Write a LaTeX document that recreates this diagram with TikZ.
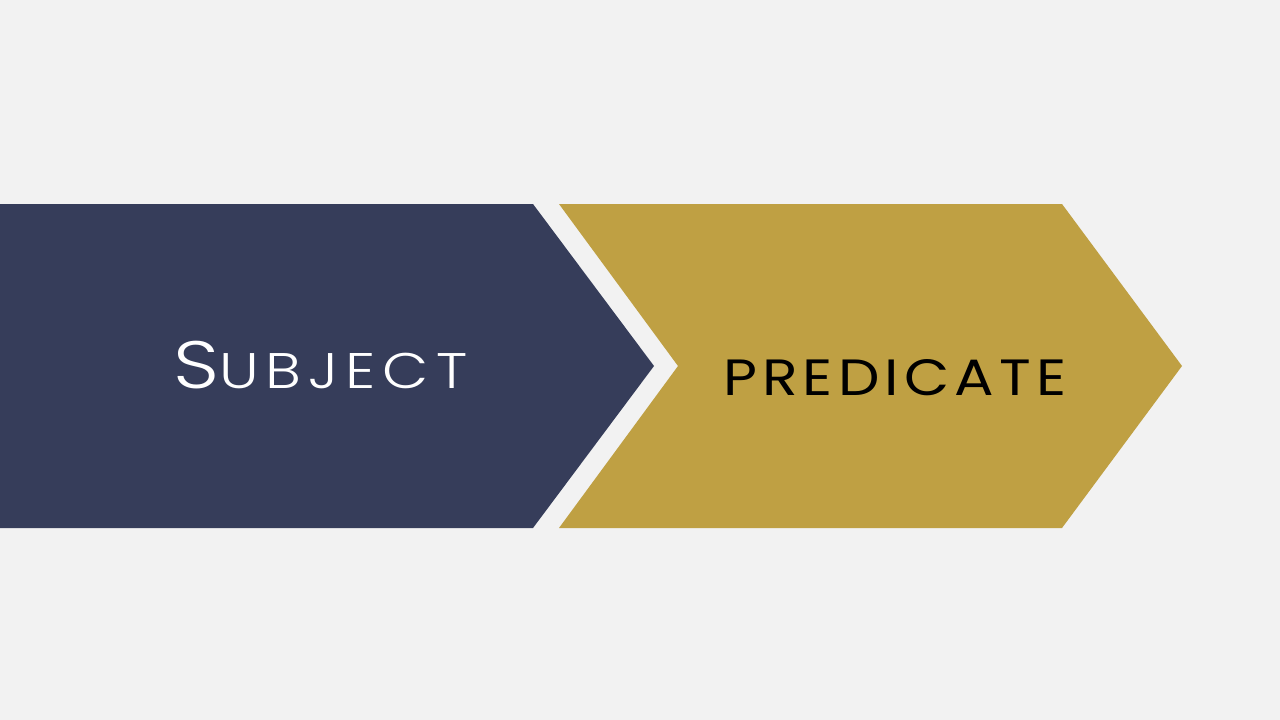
\documentclass[tikz,border=0pt]{standalone}
\usepackage{fontspec}
\newfontfamily\subjfont[LetterSpace=14,FakeStretch=1.2]{Poppins Light}
\newfontfamily\predfont[LetterSpace=10,FakeStretch=1.15]{Poppins}
\definecolor{bg}{HTML}{F2F2F2}
\definecolor{navy}{HTML}{363D5A}
\definecolor{gold}{HTML}{BFA043}
\begin{document}
\begin{tikzpicture}[x=1pt,y=-1pt]
\tikzset{label/.style={inner sep=0pt, anchor=base west}}
\useasboundingbox (0,0) rectangle (1280,720);
\fill[bg] (0,0) rectangle (1280,720);
\fill[navy] (0,204) -- (533,204) -- (654,366) -- (533,528) -- (0,528) -- cycle;
\fill[gold] (559,204) -- (1062,204) -- (1182,366) -- (1062,528) -- (559,528) -- (678,366) -- cycle;
\node[label, text=white] (subj) at (173,388) {\subjfont\fontsize{67}{67}\selectfont S\fontsize{50}{50}\selectfont UBJECT};
\node[label, text=black] (pred) at (723,395) {\predfont\fontsize{51}{51}\selectfont PREDICATE};
\end{tikzpicture}
\end{document}
